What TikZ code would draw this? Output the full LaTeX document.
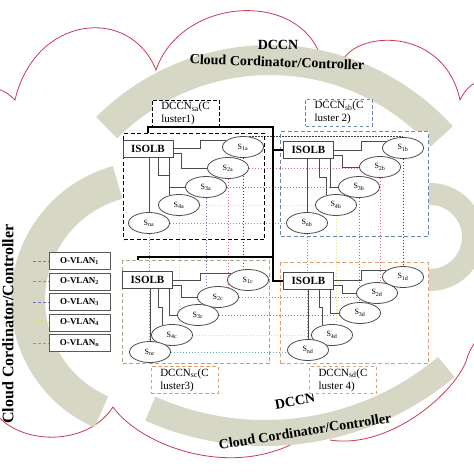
\documentclass[tikz,border=0pt]{standalone}
\usepackage{fontspec}
\setmainfont{Liberation Serif}
\usetikzlibrary{shapes.geometric}
\definecolor{cloudred}{RGB}{200, 60, 85}
\definecolor{bandgray}{RGB}{214, 216, 197}
\definecolor{lvone}{RGB}{60, 60, 60}
\definecolor{lvtwo}{RGB}{225, 105, 130}
\definecolor{lvthree}{RGB}{125, 115, 200}
\definecolor{lvfour}{RGB}{232, 226, 110}
\definecolor{lvn}{RGB}{95, 175, 175}
\definecolor{clb}{RGB}{105, 135, 175}
\definecolor{clc}{RGB}{165, 170, 135}
\definecolor{cld}{RGB}{230, 160, 110}
\pgfdeclarelayer{bg}
\pgfdeclarelayer{grid}
\pgfsetlayers{bg,grid,main}

\begin{document}
\begin{tikzpicture}[
    x=1pt, y=-1pt,
    cloudline/.style={draw=cloudred, line width=0.8pt},
    bandarc/.style={draw=bandgray, line width=#1},
    clusterbox/.style={draw=#1, line width=1pt, dash pattern=on 4pt off 2.5pt,
        anchor=north west, inner sep=0pt},
    lblbox/.style={draw=#1, line width=0.9pt, dash pattern=on 3.5pt off 2.5pt,
        fill=white, minimum width=67, minimum height=26, inner sep=2pt,
        align=left, font=\fontsize{11}{13}\selectfont},
    isolb/.style={draw=black!70, line width=1pt, fill=white, minimum width=50,
        minimum height=17, inner sep=0pt, font=\fontsize{11}{12}\selectfont\bfseries},
    swnode/.style={ellipse, draw=black!70, line width=0.8pt, fill=white,
        minimum width=41, minimum height=21, inner sep=0pt,
        font=\fontsize{8}{9}\selectfont},
    vlan/.style={draw=black!65, line width=1pt, fill=white, minimum width=61,
        minimum height=17, inner sep=0pt, font=\fontsize{9}{10}\selectfont\bfseries},
    swlink/.style={draw=black!70, line width=0.8pt},
    bus/.style={draw=black, line width=2pt},
    lvline/.style={line width=0.9pt, dash pattern=on 1.5pt off 1.5pt},
    stub/.style={line width=0.9pt, dash pattern=on 3pt off 2pt},
    cctitle/.style={font=\fontsize{14}{16}\selectfont\bfseries, inner sep=0pt},
]

\useasboundingbox (0,0) rectangle (474,474);

% --- Cloud outline and coordinator bands ---
\begin{pgfonlayer}{bg}
\fill[white] (0,0) rectangle (474,474);
\draw[cloudline] (-5,88) .. controls (5,91) and (10,95) .. (15,100)
    .. controls (35,15) and (130,5) .. (156,70)
    .. controls (180,0) and (290,-10) .. (318,50)
    .. controls (325,55) and (335,57) .. (345,57)
    .. controls (365,30) and (445,30) .. (460,100)
    .. controls (465,90) and (470,85) .. (480,80);
\draw[cloudline] (480,335) .. controls (475,342) and (471,348) .. (468,355)
    .. controls (460,390) and (390,450) .. (330,440);
\draw[cloudline] (-10,405) .. controls (10,445) and (85,450) .. (113,407)
    .. controls (140,445) and (230,480) .. (300,440);

\draw[bandarc=30] (270,291) ++(225:231) arc[start angle=225, end angle=318, radius=231];
\draw[bandarc=34] (150,300) ++(113.5:122) arc[start angle=113.5, end angle=254.6, radius=122];
\draw[bandarc=26] (265,151) ++(50:282) arc[start angle=50, end angle=114, radius=282];
\draw[bandarc=22] (430,237) ++(-98:43) arc[start angle=-98, end angle=98, radius=43];
\end{pgfonlayer}

% --- Titles ---
\node[cctitle] (ttop) at (278,45) {DCCN};
\node[cctitle, rotate=-2] (ttopsub) at (277,62) {Cloud Cordinator/Controller};
\node[cctitle, rotate=10] (tbot) at (295,401) {DCCN};
\node[cctitle, rotate=9] (tbotsub) at (305,431) {Cloud Cordinator/Controller};
\node[cctitle, font=\fontsize{16}{18}\selectfont\bfseries, rotate=90]
    (tleft) at (8,324) {Cloud Cordinator/Controller};

% --- Clusters ---
\node[clusterbox=black, minimum width=141, minimum height=106] (boxa) at (123,133) {};
\node[clusterbox=clb, minimum width=148, minimum height=105] (boxb) at (280,131) {};
\node[clusterbox=clc, minimum width=147, minimum height=103] (boxc) at (122,260) {};
\node[clusterbox=cld, minimum width=148, minimum height=101] (boxd) at (280,262) {};

\node[lblbox=black] (laba) at (185.5,113.5) {DCCN\textsubscript{sa}(C\\luster1)};
\node[lblbox=clb] (labb) at (339,112.5) {DCCN\textsubscript{sb}(C\\luster 2)};
\node[lblbox=cld] (labc) at (184.5,380) {DCCN\textsubscript{sc}(C\\luster3)};
\node[lblbox=cld] (labd) at (343,380) {DCCN\textsubscript{sd}(C\\luster 4)};

\node[isolb] (isoa) at (148,148.5) {ISOLB};
\node[isolb] (isob) at (308.5,150) {ISOLB};
\node[isolb] (isoc) at (147.5,280) {ISOLB};
\node[isolb] (isod) at (308.5,280.5) {ISOLB};

\foreach \nm/\lab/\x/\y in {
    s1a/1a/243/147, s2a/2a/228/168, s3a/3a/206/187, s4a/4a/179/205, sna/na/149/223,
    s1b/1b/403/148, s2b/2b/380/167, s3b/3b/359/187, s4b/4b/336/205, snb/nb/307/223,
    s1c/1c/248/280, s2c/2c/218/297, s3c/3c/198/315, s4c/4c/172/335, snc/nc/150/352,
    s1d/1d/403/277, s2d/2d/377/293, s3d/3d/360/313, s4d/4d/332/335, snd/nd/308/350}
    \node[swnode] (\nm) at (\x,\y) {S\textsubscript{\lab}};

% --- ISOLB to switches ---
\foreach \c in {a,b,c,d} {
    \draw[swlink] (iso\c.east) -- ++(27,0) |- (s1\c.160);
    \draw[swlink] ([yshift=-5pt]iso\c.east) -- ++(8,0) |- (s2\c.west);
    \draw[swlink] ([xshift=-4pt]iso\c.south east) |- (s3\c.west);
    \draw[swlink] ([xshift=-15pt]iso\c.south east) -- ++(0,18) -| (s4\c.135);
    \draw[swlink] (sn\c.north) -- (sn\c.north |- iso\c.south);
}

% --- Controller bus ---
\coordinate (bustop) at (273,127);
\coordinate (busc) at (273,257);
\draw[bus] (boxa.north -| isoa) |- (bustop) -- (bustop |- isod.west) -- (isod.west);
\draw[bus] (isob.west) -- (isob.west -| bustop);
\draw[bus] ([xshift=16pt]boxc.north west) |- (busc);

% --- O-VLANs ---
\foreach \i/\lab/\y/\col in {1/1/261/gray, 2/2/281.5/lvtwo, 3/3/302/lvthree,
                             4/4/322.5/lvfour, 5/n/343/lvn} {
    \node[vlan] (vlan\i) at (79.5,\y) {O-VLAN\textsubscript{\lab}};
    \coordinate (vstub\i) at (33,\y);
    \draw[stub, draw=\col] (vstub\i) -- (vlan\i);
}

% --- white backs of the clusters ---
\begin{pgfonlayer}{bg}
\foreach \c in {a,b,c,d}
    \fill[white] (box\c.north west) rectangle (box\c.south east);
\end{pgfonlayer}

% --- O-VLAN grid between the clusters ---
\begin{pgfonlayer}{grid}
\draw[lvline, draw=lvone] (s1a.60) -- (s1a.60 -| s1b);
\draw[lvline, draw=lvone] (s1a) -- (s1a |- s1c);
\draw[lvline, draw=lvone] (s1b) -- (s1b |- s1d);
\foreach \k/\col in {2/lvtwo, 3/lvthree, 4/lvfour, n/lvn} {
    \draw[lvline, draw=\col] (s\k a) -- (s\k a -| s\k b);
    \draw[lvline, draw=\col] (s\k c) -- (s\k c -| s\k d);
    \draw[lvline, draw=\col] (s\k a) -- (s\k a |- s\k c);
    \draw[lvline, draw=\col] (s\k b) -- (s\k b |- s\k d);
}
\end{pgfonlayer}

\end{tikzpicture}
\end{document}
